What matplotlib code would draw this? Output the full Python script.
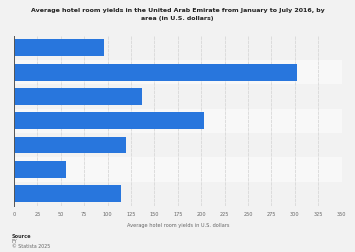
import matplotlib
matplotlib.use("Agg")
import matplotlib.pyplot as plt

categories = ["Area 1", "Area 2", "Area 3", "Area 4", "Area 5", "Area 6", "Area 7"]
values = [96, 302, 137, 203, 120, 56, 114]
xticks = [0, 25, 50, 75, 100, 125, 150, 175, 200, 225, 250, 275, 300, 325, 350]

bg = "#f2f2f2"
fig = plt.figure(figsize=(3.55, 2.53), dpi=100, facecolor=bg)
ax = fig.add_axes([14/355, 46.2/253, (341.5-14)/355, (206.8-36.7)/253])
ax.set_facecolor(bg)

n = len(categories)
for i in range(n):
    if i % 2 == 1:
        ax.axhspan(i - 0.5, i + 0.5, color="#f8f8f8", zorder=0, lw=0)

ax.barh(range(n), values, height=0.69, color="#2876dd", zorder=3)
ax.set_ylim(n - 0.5, -0.5)
ax.set_xlim(0, 350)
ax.set_xticks(xticks)
ax.set_xticklabels([str(t) for t in xticks], fontsize=3.6, color="#666666")
ax.set_yticks([])
ax.tick_params(axis="x", length=0, pad=4)
ax.grid(axis="x", color="#d8d8d8", lw=0.6, ls=(0, (4, 1)), zorder=1)
for s in ["top", "right", "bottom"]:
    ax.spines[s].set_visible(False)
ax.spines["left"].set_color("#555555")
ax.spines["left"].set_linewidth(0.7)
ax.spines["left"].set_zorder(4)
ax.set_xlabel("Average hotel room yields in U.S. dollars", fontsize=3.6, color="#666666", labelpad=4)

fig.text(0.5, 1 - 14.5/253, "Average hotel room yields in the United Arab Emirate from January to July 2016, by\narea (in U.S. dollars)",
         ha="center", va="center", fontsize=4.5, fontweight="bold", color="#222222", linespacing=1.9)
fig.text(12/355, 1 - 236/253, "Source", fontsize=3.6, fontweight="bold", color="#333333", va="center")
fig.text(12/355, 1 - 241.5/253, "FY", fontsize=3.4, color="#666666", va="center")
fig.text(12/355, 1 - 246.5/253, "© Statista 2025", fontsize=3.4, color="#666666", va="center")

fig.savefig("out.png", dpi=100, facecolor=bg)
